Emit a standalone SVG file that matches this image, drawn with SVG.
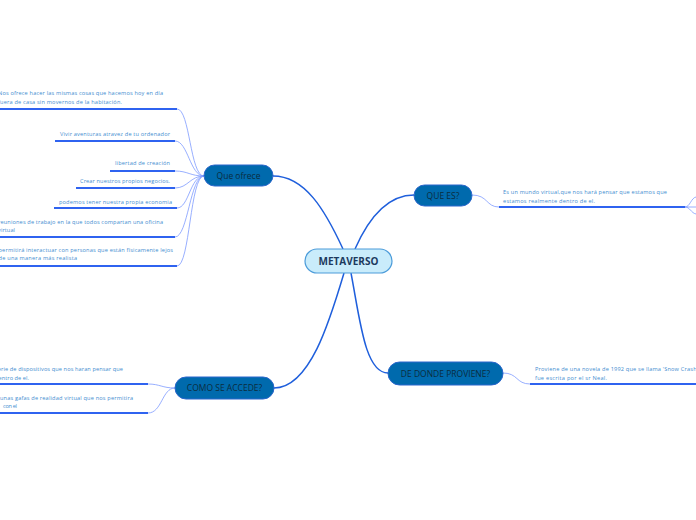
<svg xmlns="http://www.w3.org/2000/svg" width="696" height="520" viewBox="0 0 696 520">
<style>
.main{stroke:#1f5fdc;stroke-width:1.5;fill:none}
.fan{stroke:#7d9bff;stroke-width:0.8;fill:none}
.ul{stroke:#2f63f0;stroke-width:1.8;fill:none}
.node rect{fill:#006aad;stroke:#2b66cc;stroke-width:1}
.node text{font-family:"Open Sans","Liberation Sans",sans-serif;font-size:8.5px;fill:#0b2d3e;text-anchor:middle}
.root rect{fill:#c9ecfb;stroke:#4c9cda;stroke-width:1.2}
.root text{font-family:"Open Sans","Liberation Sans",sans-serif;font-size:10px;font-weight:bold;fill:#1c3a5e;text-anchor:middle}
.leaf text{font-family:"Open Sans","Liberation Sans",sans-serif;font-size:5.6px;fill:#3f8dd0}
</style>
<rect width="696" height="520" fill="#ffffff"/>
<g id="connectors">
<path class="main" d="M273,176 C305,176 325,210 343,249"/>
<path class="main" d="M355,249 C370,215 390,195 414,195"/>
<path class="main" d="M344,273 C330,320 310,388 274,388"/>
<path class="main" d="M351,273 C360,320 365,373 388,373"/>
<path class="fan" d="M177,109 C190,109 190,176 204,176"/>
<path class="fan" d="M175,141 C188,141 190,176 204,176"/>
<path class="fan" d="M175,171 C188,171 190,176 204,176"/>
<path class="fan" d="M175,188 C188,188 190,176 204,176"/>
<path class="fan" d="M177,208 C189,208 190,176 204,176"/>
<path class="fan" d="M175,237 C188,237 190,176 204,176"/>
<path class="fan" d="M177,266 C190,266 190,176 204,176"/>
<path class="fan" d="M148,384 C160,384 162,388 175,388"/>
<path class="fan" d="M148,413 C162,413 162,388 175,388"/>
<path class="fan" d="M472,195 C488,195 486,207 499,207"/>
<path class="fan" d="M503,373 C518,373 516,384 530,384"/>
<path class="fan" d="M685,207 C690,207 691,198 696,197"/>
<path class="fan" d="M685,207 L696,207"/>
<path class="fan" d="M685,207 C690,207 691,213 696,214"/>
</g>
<g id="leaf-qo1" class="leaf"><text x="-2" y="95" textLength="165">Nos ofrece hacer las mismas cosas que hacemos hoy en día</text><text x="-2" y="104" textLength="124">fuera de casa sin movernos de la habitación.</text><line class="ul" x1="0" y1="109" x2="177" y2="109"/></g>
<g id="leaf-qo2" class="leaf"><text x="60" y="136" textLength="110">Vivir aventuras atravez de tu ordenador</text><line class="ul" x1="55" y1="141" x2="175" y2="141"/></g>
<g id="leaf-qo3" class="leaf"><text x="115" y="165" textLength="55">libertad de creación</text><line class="ul" x1="110" y1="171" x2="175" y2="171"/></g>
<g id="leaf-qo4" class="leaf"><text x="80" y="183" textLength="90">Crear nuestros propios negocios.</text><line class="ul" x1="76" y1="188" x2="175" y2="188"/></g>
<g id="leaf-qo5" class="leaf"><text x="59" y="204" textLength="113">podemos tener nuestra propia economia</text><line class="ul" x1="54" y1="208" x2="177" y2="208"/></g>
<g id="leaf-qo6" class="leaf"><text x="-2" y="224" textLength="165">reuniones de trabajo en la que todos compartan una oficina</text><text x="-2" y="232" textLength="17">virtual</text><line class="ul" x1="0" y1="237" x2="175" y2="237"/></g>
<g id="leaf-qo7" class="leaf"><text x="-1.5" y="252" textLength="174.5">permitirá interactuar con personas que están físicamente lejos</text><text x="-1.5" y="260" textLength="78.5">de una manera más realista</text><line class="ul" x1="0" y1="266" x2="177" y2="266"/></g>
<g id="leaf-qe1" class="leaf"><text x="503" y="194" textLength="164">Es un mundo virtual,que nos hará pensar que estamos que</text><text x="503" y="203" textLength="92">estamos realmente dentro de el.</text><line class="ul" x1="499" y1="207" x2="685" y2="207"/></g>
<g id="leaf-ca1" class="leaf"><text x="-5" y="371" textLength="128">serie de dispositivos que nos haran pensar que</text><text x="-5" y="380" textLength="34">dentro de el.</text><line class="ul" x1="0" y1="384" x2="148" y2="384"/></g>
<g id="leaf-ca2" class="leaf"><text x="0" y="400" textLength="133">unas gafas de realidad virtual que nos permitira</text><text x="3" y="408" textLength="14">con el</text><line class="ul" x1="0" y1="413" x2="148" y2="413"/></g>
<g id="leaf-dp1" class="leaf"><text x="535" y="371" textLength="163">Proviene de una novela de 1992 que se llama 'Snow Crash'</text><text x="535" y="380" textLength="72">fue escrita por el sr Neal.</text><line class="ul" x1="530" y1="384" x2="696" y2="384"/></g>
<g id="node-que-ofrece" class="node"><rect x="204" y="165" width="69" height="21" rx="10.5"/><text x="238.5" y="178.5">Que ofrece</text></g>
<g id="node-que-es" class="node"><rect x="414" y="185" width="58" height="21" rx="10.5"/><text x="443" y="198.5">QUE ES?</text></g>
<g id="node-como" class="node"><rect x="175" y="377" width="99" height="22" rx="11"/><text x="224.5" y="391">COMO SE ACCEDE?</text></g>
<g id="node-donde" class="node"><rect x="388" y="362" width="115" height="23" rx="11.5"/><text x="445.5" y="376.5">DE DONDE PROVIENE?</text></g>
<g id="node-metaverso" class="root"><rect x="305" y="249" width="87" height="24" rx="12"/><text x="348.5" y="264.5">METAVERSO</text></g>
</svg>
